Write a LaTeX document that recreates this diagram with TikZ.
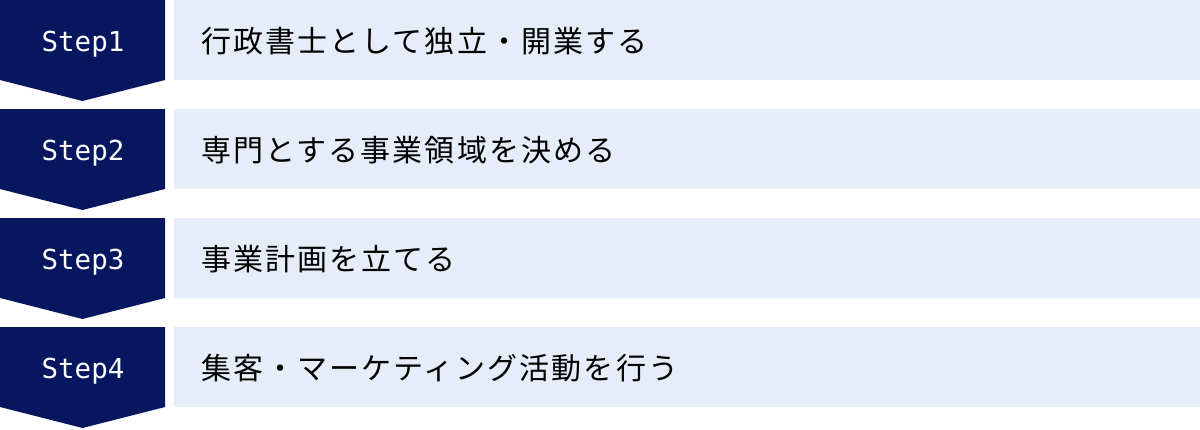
\documentclass[tikz,border=0pt]{standalone}
\usepackage{fontspec}
\setmainfont{Noto Sans CJK JP}
\newfontfamily\boxfont[LetterSpace=7]{Noto Sans CJK JP}
\newfontfamily\labelfont{DejaVu Sans Mono}
\definecolor{navy}{HTML}{061760}
\definecolor{pale}{HTML}{E6ECF8}
\tikzset{
  stepshape/.style={fill=navy, draw=none},
  stepbox/.style={fill=pale, draw=none},
  steplabel/.style={text=white, font=\labelfont\fontsize{27.5}{30}\selectfont, inner sep=0pt, anchor=base},
  boxtext/.style={text=black, font=\boxfont\fontsize{30}{36}\selectfont, anchor=base west, inner sep=0pt}
}
\begin{document}
\begin{tikzpicture}[x=1pt,y=-1pt]
\useasboundingbox[fill=white] (0,0) rectangle (1200,429);
\foreach \i/\t in {0/行政書士として独立・開業する,1/専門とする事業領域を決める,2/事業計画を立てる,3/集客・マーケティング活動を行う}{
  \pgfmathsetmacro{\y}{\i*109}
  \fill[stepshape] (0,\y) -- (165,\y) -- (165,\y+80) -- (82.5,\y+101) -- (0,\y+80) -- cycle;
  \fill[stepbox] (174,\y) rectangle (1200,\y+80);
  \pgfmathtruncatemacro{\n}{\i+1}
  \node[steplabel] (s\n) at (83,\y+51) {Step\n};
  \node[boxtext] (t\n) at (201,\y+52) {\t};
}
\end{tikzpicture}
\end{document}
